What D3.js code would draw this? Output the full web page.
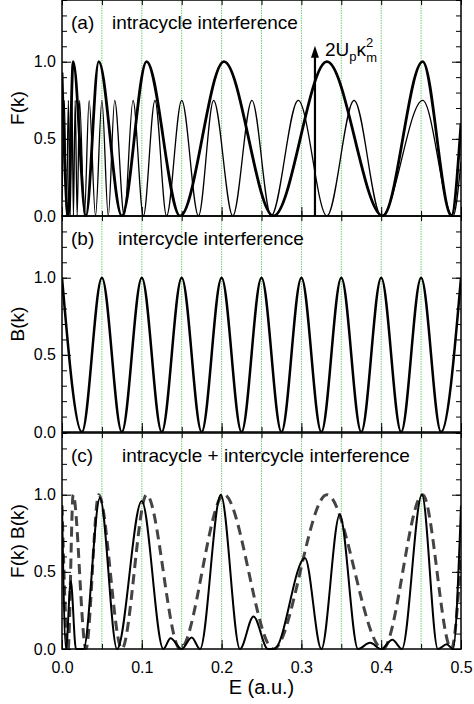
<!DOCTYPE html>
<html><head><meta charset="utf-8">
<script src="https://cdn.jsdelivr.net/npm/d3@7"></script>
<style>body{margin:0;background:#fff}svg{font-family:"Liberation Sans",Arial,sans-serif}</style>
</head><body><svg id="c" width="474" height="704"></svg>
<script>
// Data: [E, value] extrema
const thickF = [[0,0.93],[0.0077,0],[0.014,1],[0.030,0],[0.046,1],[0.075,0],[0.106,1],[0.148,0],[0.203,1],[0.265,0],[0.332,1],[0.402,0],[0.452,1],[0.488,0],[0.5,0.6]];
const thinF = [[0,0.1],[0.003,0.75],[0.0055,0],[0.008,0.75],[0.0103,0],[0.0125,0.75],[0.0143,0],[0.0165,0.75],[0.019,0],[0.022,0.75],[0.028,0],[0.034,0.75],[0.042,0],[0.050,0.75],[0.058,0],[0.066,0.75],[0.078,0],[0.089,0.75],[0.102,0],[0.1165,0.75],[0.131,0],[0.150,0.75],[0.171,0],[0.190,0.75],[0.214,0],[0.238,0.75],[0.262,0],[0.296,0.75],[0.332,0],[0.366,0.75],[0.40,0],[0.452,0.75],[0.49,0],[0.5,0.35]];
const Bk = [[0,1],[0.025,0],[0.05,1],[0.075,0],[0.1,1],[0.125,0],[0.15,1],[0.175,0],[0.2,1],[0.225,0],[0.25,1],[0.275,0],[0.3,1],[0.325,0],[0.35,1],[0.375,0],[0.4,1],[0.425,0],[0.45,1],[0.475,0],[0.5,1]];
const FB = [[0,0.93],[0.005,0],[0.011,0.44],[0.0175,0],[0.027,0],[0.0476,0.98],[0.069,0],[0.0999,0.96],[0.127,0],[0.136,0.07],[0.150,0],[0.1625,0.075],[0.173,0],[0.199,1.0],[0.223,0],[0.240,0.21],[0.258,0],[0.266,0],[0.3045,0.59],[0.325,0],[0.348,0.87],[0.371,0],[0.386,0.04],[0.40,0],[0.414,0.06],[0.426,0],[0.451,1.0],[0.471,0],[0.482,0.03],[0.49,0],[0.5,0.93]];
const gridE = [0.05,0.1,0.15,0.2,0.25,0.3,0.35,0.4,0.45];
const xTicks = [0,0.1,0.2,0.3,0.4,0.5];
const yTicks = [0,0.5,1.0];
const arrowE = 0.317, arrowTop = 1.09;

const svg = d3.select("#c");
const L=62, R=461;
const x = d3.scaleLinear().domain([0,0.5]).range([L,R]);
const panels = [{top:0,label:"(a)",title:"intracycle interference",yl:"F(k)"},
                {top:216,label:"(b)",title:"intercycle interference",yl:"B(k)"},
                {top:433,label:"(c)",title:"intracycle + intercycle interference",yl:"F(k) B(k)"}];
const H=217;
const line = y => d3.line().x(d=>x(d[0])).y(d=>y(d[1])).curve(d3.curveMonotoneX);
panels.forEach((p,i)=>{
  const y = d3.scaleLinear().domain([0,1.4]).range([p.top+H-1,p.top]);
  const g = svg.append("g");
  const clipId="clip"+i;
  svg.append("clipPath").attr("id",clipId).append("rect").attr("x",L).attr("y",p.top).attr("width",R-L).attr("height",H);
  g.selectAll(".gr").data(gridE).join("line").attr("x1",d=>x(d)).attr("x2",d=>x(d)).attr("y1",p.top).attr("y2",p.top+H)
    .attr("stroke","#7c7").attr("stroke-width",1).attr("stroke-dasharray","1.5,1");
  const cg = g.append("g").attr("clip-path",`url(#${clipId})`);
  const add=(d,w,col,dash)=>cg.append("path").attr("d",line(y)(d)).attr("fill","none").attr("stroke",col).attr("stroke-width",w).attr("stroke-dasharray",dash||null);
  if(i===0){add(thinF,1.3,"#000");add(thickF,2.8,"#000");}
  if(i===1){add(Bk,2.5,"#000");}
  if(i===2){add(thickF,3,"#444","10,6");add(FB,2,"#000");}
  g.append("g").attr("transform",`translate(${L},0)`).call(d3.axisLeft(y).tickValues(d3.range(0,1.41,0.1)).tickSize(-5).tickFormat(""));
  g.append("g").attr("transform",`translate(${R},0)`).call(d3.axisRight(y).tickValues(d3.range(0,1.41,0.1)).tickSize(-5).tickFormat(""));
  g.append("g").attr("transform",`translate(${L},0)`).call(d3.axisLeft(y).tickValues(yTicks).tickSize(-9).tickFormat(d3.format(".1f")))
    .call(a=>a.selectAll("text").attr("font-size",16).attr("fill","#000").attr("x",-6));
  g.append("g").attr("transform",`translate(${R},0)`).call(d3.axisRight(y).tickValues(yTicks).tickSize(-9).tickFormat(""));
  g.append("g").attr("transform",`translate(0,${p.top+H-1})`).call(d3.axisBottom(x).tickValues(d3.range(0,0.51,0.05)).tickSize(-5).tickFormat(""));
  const xb = g.append("g").attr("transform",`translate(0,${p.top+H-1})`).call(d3.axisBottom(x).tickValues(xTicks).tickSize(-9).tickFormat(i===2?d3.format(".1f"):""));
  xb.selectAll("text").attr("font-size",16).attr("fill","#000").attr("y",10).attr("dy","0.9em");
  g.append("g").attr("transform",`translate(0,${p.top})`).call(d3.axisTop(x).tickValues(d3.range(0,0.51,0.05)).tickSize(-5).tickFormat(""));
  g.selectAll(".domain").attr("stroke","none");
  g.selectAll(".tick line").attr("stroke","#000");
  g.append("rect").attr("x",L).attr("y",p.top).attr("width",R-L).attr("height",H-1).attr("fill","none").attr("stroke","#000").attr("stroke-width",1.5);
  g.append("text").attr("x",71).attr("y",p.top+29).attr("font-size",19).text(p.label);
  g.append("text").attr("x",i===0?112:i===1?118:122).attr("y",p.top+29).attr("font-size",19).text(p.title);
  g.append("text").attr("transform",`translate(24,${y(0.7)}) rotate(-90)`).attr("text-anchor","middle").attr("font-size",19).text(p.yl);
  if(i===0){
    const ax=x(arrowE);
    g.append("line").attr("x1",ax).attr("x2",ax).attr("y1",y(0)).attr("y2",y(arrowTop)+8).attr("stroke","#000").attr("stroke-width",2.2);
    g.append("path").attr("d",`M${ax-4},${y(arrowTop)+10}L${ax},${y(arrowTop)-2}L${ax+4},${y(arrowTop)+10}Z`).attr("fill","#000");
    const t=g.append("text").attr("x",ax+10).attr("y",y(arrowTop)+8).attr("font-size",19);
    t.append("tspan").text("2U");
    t.append("tspan").attr("font-size",13).attr("dy",5).text("p");
    t.append("tspan").attr("dy",-5).text("κ");
    t.append("tspan").attr("font-size",13).attr("dy",-9).text("2");
    t.append("tspan").attr("font-size",13).attr("dy",15).attr("dx",-7).text("m");
  }
});
svg.append("text").attr("x",(L+R)/2).attr("y",694).attr("text-anchor","middle").attr("font-size",20).text("E (a.u.)");
</script></body></html>
